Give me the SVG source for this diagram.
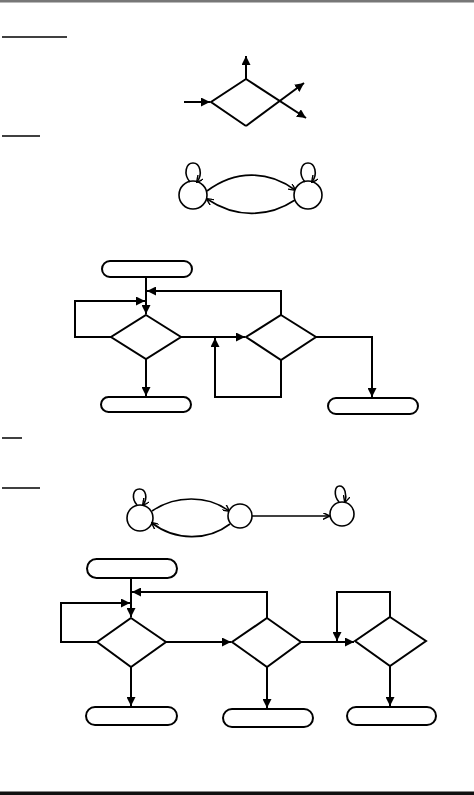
<svg xmlns="http://www.w3.org/2000/svg" width="474" height="795" viewBox="0 0 474 795">
<style>
.ln{fill:none;stroke:#000;stroke-width:2}
.st{fill:none;stroke:#000;stroke-width:1.6}
.nd{fill:#fff;stroke:#000;stroke-width:2}
.cs{fill:#fff;stroke:#000;stroke-width:1.6}
.rule{stroke:#000;stroke-width:1.5}
</style>
<defs>
<marker id="ah" viewBox="0 0 10 10" refX="10" refY="5" markerWidth="9" markerHeight="9" markerUnits="userSpaceOnUse" orient="auto">
<path d="M0,0 L10,5 L0,10 z" fill="#000"/>
</marker>
<marker id="sa" viewBox="0 0 10 10" refX="9" refY="5" markerWidth="7" markerHeight="7" markerUnits="userSpaceOnUse" orient="auto">
<path d="M0,0 L10,5 L0,10" fill="none" stroke="#000" stroke-width="2"/>
</marker>
</defs>
<rect x="0" y="0" width="474" height="2.5" fill="#777"/>
<rect x="0" y="791.5" width="474" height="3.5" fill="#111"/>
<g id="rules">
<line class="rule" x1="2" y1="37" x2="67" y2="37"/>
<line class="rule" x1="2" y1="136" x2="40" y2="136"/>
<line class="rule" x1="2" y1="438" x2="22" y2="438"/>
<line class="rule" x1="2" y1="488" x2="40" y2="488"/>
</g>
<g id="decision-symbol">
<path class="ln" d="M246,79 L211,102 L246,126"/>
</g>
<g id="state1-A"><circle class="cs" cx="193" cy="195" r="14"/></g>
<g id="state1-B"><circle class="cs" cx="308" cy="195" r="14"/></g>
<g id="fc1-start"><rect class="nd" x="102" y="261" width="90" height="16" rx="8"/></g>
<g id="fc1-d1"><path class="nd" d="M146,315 L181,337 L146,359 L111,337 z"/></g>
<g id="fc1-d2"><path class="nd" d="M281,315 L316,337 L281,360 L246,337 z"/></g>
<g id="fc1-end1"><rect class="nd" x="101" y="397" width="90" height="15" rx="7.5"/></g>
<g id="fc1-end2"><rect class="nd" x="328" y="398" width="90" height="16" rx="8"/></g>
<g id="state2-A"><circle class="cs" cx="140" cy="518" r="13"/></g>
<g id="state2-B"><circle class="cs" cx="240" cy="516" r="12"/></g>
<g id="state2-C"><circle class="cs" cx="342" cy="514" r="12"/></g>
<g id="fc2-start"><rect class="nd" x="87" y="559" width="90" height="19" rx="9.5"/></g>
<g id="fc2-d1"><path class="nd" d="M131,618 L166,642 L131,667 L97,642 z"/></g>
<g id="fc2-d2"><path class="nd" d="M267,618 L301,642 L267,667 L232,642 z"/></g>
<g id="fc2-d3"><path class="nd" d="M390,617 L426,641 L390,666 L355,641 z"/></g>
<g id="fc2-end1"><rect class="nd" x="86" y="707" width="91" height="18" rx="9"/></g>
<g id="fc2-end2"><rect class="nd" x="223" y="709" width="90" height="18" rx="9"/></g>
<g id="fc2-end3"><rect class="nd" x="347" y="707" width="89" height="18" rx="9"/></g>
<g id="connectors">
<!-- decision symbol arrows -->
<line class="ln" x1="246" y1="79" x2="246" y2="56" marker-end="url(#ah)"/>
<line class="ln" x1="184" y1="102" x2="210" y2="102" marker-end="url(#ah)"/>
<line class="ln" x1="246" y1="79" x2="306" y2="118" marker-end="url(#ah)"/>
<line class="ln" x1="246" y1="126" x2="304" y2="83" marker-end="url(#ah)"/>
<!-- state diagram 1 -->
<path class="st" d="M190,182 C183,174 186,163 193,163 C200,163 203,174 197,182" marker-end="url(#sa)"/>
<path class="st" d="M305,182 C298,174 301,163 308,163 C315,163 318,174 312,182" marker-end="url(#sa)"/>
<path class="st" d="M207,191 C235,170 268,170 295,190" marker-end="url(#sa)"/>
<path class="st" d="M295,200 C268,218 235,218 207,199" marker-end="url(#sa)"/>
<!-- flowchart 1 -->
<line class="ln" x1="146" y1="277" x2="146" y2="314" marker-end="url(#ah)"/>
<polyline class="ln" points="281,315 281,291 147,291" marker-end="url(#ah)"/>
<polyline class="ln" points="111,337 75,337 75,301 145,301" marker-end="url(#ah)"/>
<line class="ln" x1="181" y1="337" x2="245" y2="337" marker-end="url(#ah)"/>
<polyline class="ln" points="281,360 281,397 215,397 215,338" marker-end="url(#ah)"/>
<polyline class="ln" points="316,337 372,337 372,397" marker-end="url(#ah)"/>
<line class="ln" x1="146" y1="359" x2="146" y2="396" marker-end="url(#ah)"/>
<!-- state diagram 2 -->
<path class="st" d="M137,505 C131,498 133,489 139.5,489 C146,489 148,498 143,505" marker-end="url(#sa)"/>
<path class="st" d="M339,502 C333,495 335,486 339.5,486 C345,486 347,495 345,502" marker-end="url(#sa)"/>
<path class="st" d="M152,511 C175,495 208,495 229,511" marker-end="url(#sa)"/>
<path class="st" d="M230,524 C208,541 175,541 152,523" marker-end="url(#sa)"/>
<line class="st" x1="252" y1="516" x2="329" y2="516" marker-end="url(#sa)"/>
<!-- flowchart 2 -->
<line class="ln" x1="131" y1="578" x2="131" y2="617" marker-end="url(#ah)"/>
<polyline class="ln" points="267,618 267,592 132,592" marker-end="url(#ah)"/>
<polyline class="ln" points="97,642 61,642 61,603 130,603" marker-end="url(#ah)"/>
<line class="ln" x1="166" y1="642" x2="231" y2="642" marker-end="url(#ah)"/>
<line class="ln" x1="301" y1="642" x2="354" y2="642" marker-end="url(#ah)"/>
<polyline class="ln" points="390,617 390,592 337,592 337,641" marker-end="url(#ah)"/>
<line class="ln" x1="131" y1="667" x2="131" y2="706" marker-end="url(#ah)"/>
<line class="ln" x1="267" y1="667" x2="267" y2="708" marker-end="url(#ah)"/>
<line class="ln" x1="390" y1="666" x2="390" y2="706" marker-end="url(#ah)"/>
</g>
</svg>
